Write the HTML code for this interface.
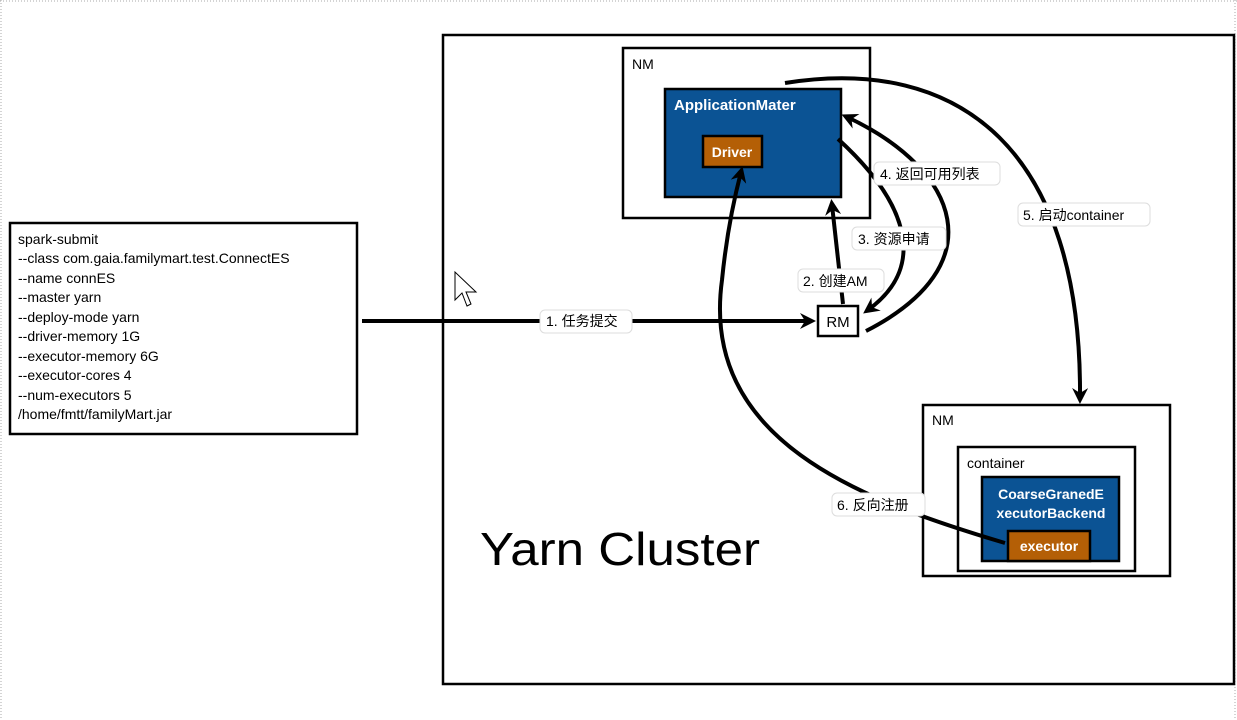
<!DOCTYPE html>
<html><head><meta charset="utf-8"><style>
html,body{margin:0;padding:0;background:#fff;}
svg{display:block;font-family:"Liberation Sans","Noto Sans CJK SC",sans-serif;}
</style></head><body>
<svg width="1237" height="720" viewBox="0 0 1237 720" xmlns="http://www.w3.org/2000/svg">
<defs>
<marker id="ah" markerWidth="18" markerHeight="18" refX="10" refY="9" orient="auto" markerUnits="userSpaceOnUse" viewBox="0 0 18 18">
<path d="M0,1 L16,9 L0,17 L5,9 Z" fill="#000"/></marker>
</defs>
<line x1="0" y1="1" x2="1237" y2="1" stroke="#aaa" stroke-dasharray="1,2"/>
<line x1="1" y1="0" x2="1" y2="720" stroke="#aaa" stroke-dasharray="1,2"/>
<line x1="1235" y1="0" x2="1235" y2="720" stroke="#aaa" stroke-dasharray="1,2"/>

<rect x="443" y="35" width="791" height="649" fill="#fff" stroke="#000" stroke-width="2.5"/>
<text x="480" y="565" font-size="46" fill="#000" textLength="280" lengthAdjust="spacingAndGlyphs">Yarn Cluster</text>

<rect x="10" y="223" width="347" height="211" fill="#fff" stroke="#000" stroke-width="2.5"/>
<g font-size="14" fill="#000">
<text x="18" y="244">spark-submit</text>
<text x="18" y="263">--class com.gaia.familymart.test.ConnectES</text>
<text x="18" y="283">--name connES</text>
<text x="18" y="302">--master yarn</text>
<text x="18" y="322">--deploy-mode yarn</text>
<text x="18" y="341">--driver-memory 1G</text>
<text x="18" y="361">--executor-memory 6G</text>
<text x="18" y="380">--executor-cores 4</text>
<text x="18" y="400">--num-executors 5</text>
<text x="18" y="419">/home/fmtt/familyMart.jar</text>
</g>

<rect x="623" y="48" width="247" height="170" fill="#fff" stroke="#000" stroke-width="2.5"/>
<text x="632" y="69" font-size="14">NM</text>
<rect x="665" y="89" width="176" height="108" fill="#0b5394" stroke="#000" stroke-width="2.5"/>
<text x="674" y="110" font-size="15" font-weight="bold" fill="#fff">ApplicationMater</text>
<rect x="703" y="136" width="59" height="31" fill="#b45f06" stroke="#000" stroke-width="2.5"/>
<text x="732" y="157" font-size="14" font-weight="bold" fill="#fff" text-anchor="middle">Driver</text>

<rect x="818" y="306" width="40" height="30" fill="#fff" stroke="#000" stroke-width="2.5"/>
<text x="838" y="327" font-size="15" text-anchor="middle">RM</text>

<rect x="923" y="405" width="247" height="171" fill="#fff" stroke="#000" stroke-width="2.5"/>
<text x="932" y="425" font-size="14">NM</text>
<rect x="958" y="447" width="177" height="124" fill="#fff" stroke="#000" stroke-width="2.5"/>
<text x="967" y="468" font-size="14">container</text>
<rect x="982" y="477" width="137" height="84" fill="#0b5394" stroke="#000" stroke-width="2.5"/>
<text x="1051" y="499" font-size="14" font-weight="bold" fill="#fff" text-anchor="middle">CoarseGranedE</text>
<text x="1051" y="518" font-size="14" font-weight="bold" fill="#fff" text-anchor="middle">xecutorBackend</text>
<rect x="1008" y="531" width="82" height="30" fill="#b45f06" stroke="#000" stroke-width="2.5"/>
<text x="1049" y="551" font-size="14" font-weight="bold" fill="#fff" text-anchor="middle">executor</text>

<g fill="none" stroke="#000" stroke-width="4" marker-end="url(#ah)">
<path d="M362,321 L810,321"/>
<path d="M843,304 L832,205"/>
<path d="M838,139 C905,200 930,265 868,310"/>
<path d="M866,331 C995,265 960,170 847,117"/>
<path d="M785,83 C960,55 1082,150 1080,398"/>
<path d="M1005,543 C860,500 700,440 722,280 C727,230 735,195 741,172"/>
</g>

<g font-size="14">
<rect x="540" y="310" width="92" height="23" rx="5" fill="#fff" stroke="#ddd"/>
<text x="546" y="326">1. 任务提交</text>
<rect x="798" y="269" width="86" height="23" rx="5" fill="#fff" stroke="#ddd"/>
<text x="803" y="286">2. 创建AM</text>
<rect x="852" y="227" width="94" height="23" rx="5" fill="#fff" stroke="#ddd"/>
<text x="858" y="244">3. 资源申请</text>
<rect x="874" y="162" width="126" height="23" rx="5" fill="#fff" stroke="#ddd"/>
<text x="880" y="179">4. 返回可用列表</text>
<rect x="1018" y="203" width="132" height="23" rx="5" fill="#fff" stroke="#ddd"/>
<text x="1023" y="220">5. 启动container</text>
<rect x="832" y="493" width="93" height="23" rx="5" fill="#fff" stroke="#ddd"/>
<text x="837" y="510">6. 反向注册</text>
</g>

<path d="M455,272 L455,300 L462,293 L467,306 L471,304 L466,292 L476,292 Z" fill="#fff" stroke="#000" stroke-width="1"/>
</svg>
</body></html>
